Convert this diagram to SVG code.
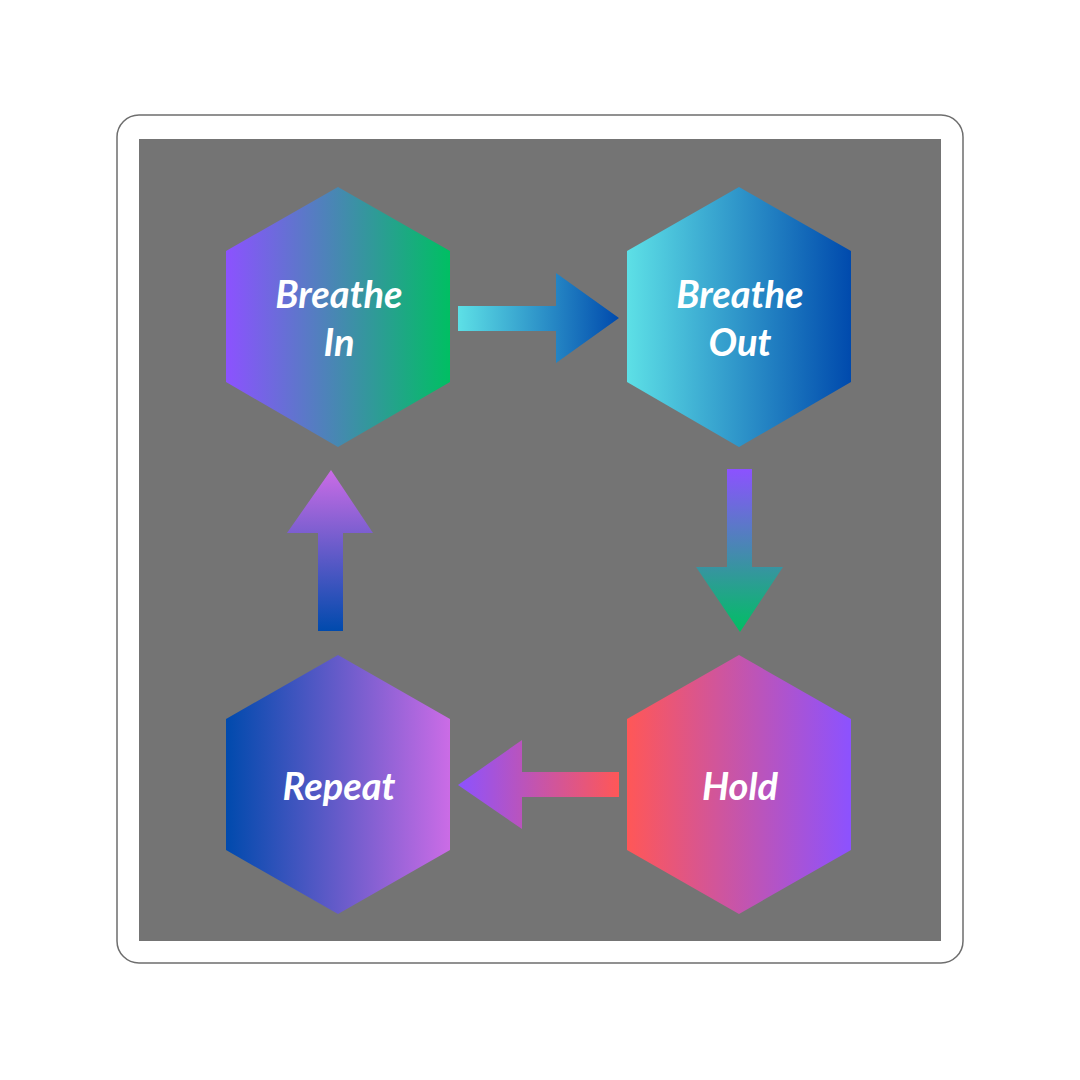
<svg xmlns="http://www.w3.org/2000/svg" width="1080" height="1080" viewBox="0 0 1080 1080">
<defs>
<linearGradient id="gIn" x1="0" y1="0" x2="1" y2="0"><stop offset="0" stop-color="#8c52ff"/><stop offset="1" stop-color="#00bf63"/></linearGradient>
<linearGradient id="gOut" x1="0" y1="0" x2="1" y2="0"><stop offset="0" stop-color="#5de0e6"/><stop offset="1" stop-color="#004aad"/></linearGradient>
<linearGradient id="gRep" x1="0" y1="0" x2="1" y2="0"><stop offset="0" stop-color="#004aad"/><stop offset="1" stop-color="#cb6ce6"/></linearGradient>
<linearGradient id="gHold" x1="0" y1="0" x2="1" y2="0"><stop offset="0" stop-color="#ff5757"/><stop offset="1" stop-color="#8c52ff"/></linearGradient>
<linearGradient id="aRight" x1="0" y1="0" x2="1" y2="0"><stop offset="0" stop-color="#5de0e6"/><stop offset="1" stop-color="#004aad"/></linearGradient>
<linearGradient id="aDown" x1="0" y1="0" x2="0" y2="1"><stop offset="0" stop-color="#8c52ff"/><stop offset="1" stop-color="#00bf63"/></linearGradient>
<linearGradient id="aUp" x1="0" y1="0" x2="0" y2="1"><stop offset="0" stop-color="#cb6ce6"/><stop offset="1" stop-color="#004aad"/></linearGradient>
<linearGradient id="aLeft" x1="0" y1="0" x2="1" y2="0"><stop offset="0" stop-color="#8c52ff"/><stop offset="1" stop-color="#ff5757"/></linearGradient>
<style>
.lbl{font-family:"Lato","Liberation Sans",sans-serif;font-weight:bold;font-style:italic;font-size:38px;fill:#ffffff;text-anchor:middle}
</style>
</defs>
<rect x="117" y="115" width="846" height="848" rx="22" ry="22" fill="#ffffff" stroke="#6e6e6e" stroke-width="1.5"/>
<rect x="139" y="139" width="802" height="802" fill="#747474"/>
<g id="connectors">
<path d="M458,306 H556 V273 L619,318 L556,363 V331 H458 Z" fill="url(#aRight)"/>
<path d="M727,469 H752 V567 H783 L740,632 L696,567 H727 Z" fill="url(#aDown)"/>
<path d="M318,631 V533 H287 L331,470 L373,533 H343 V631 Z" fill="url(#aUp)"/>
<path d="M619,772 H522 V740 L458,785 L522,829 V797 H619 Z" fill="url(#aLeft)"/>
</g>
<g id="node-breathe-in">
<polygon points="338,187 450,251 450,382 338,447 226,382 226,251" fill="url(#gIn)"/>
<text class="lbl" x="339" y="308">Breathe</text>
<text class="lbl" x="339" y="356">In</text>
</g>
<g id="node-breathe-out">
<polygon points="739,187 851,251 851,382 739,447 627,382 627,251" fill="url(#gOut)"/>
<text class="lbl" x="740" y="308">Breathe</text>
<text class="lbl" x="740" y="356">Out</text>
</g>
<g id="node-repeat">
<polygon points="338,655 450,719 450,850 338,914 226,850 226,719" fill="url(#gRep)"/>
<text class="lbl" x="339" y="800">Repeat</text>
</g>
<g id="node-hold">
<polygon points="739,655 851,719 851,850 739,914 627,850 627,719" fill="url(#gHold)"/>
<text class="lbl" x="740" y="800">Hold</text>
</g>
</svg>
